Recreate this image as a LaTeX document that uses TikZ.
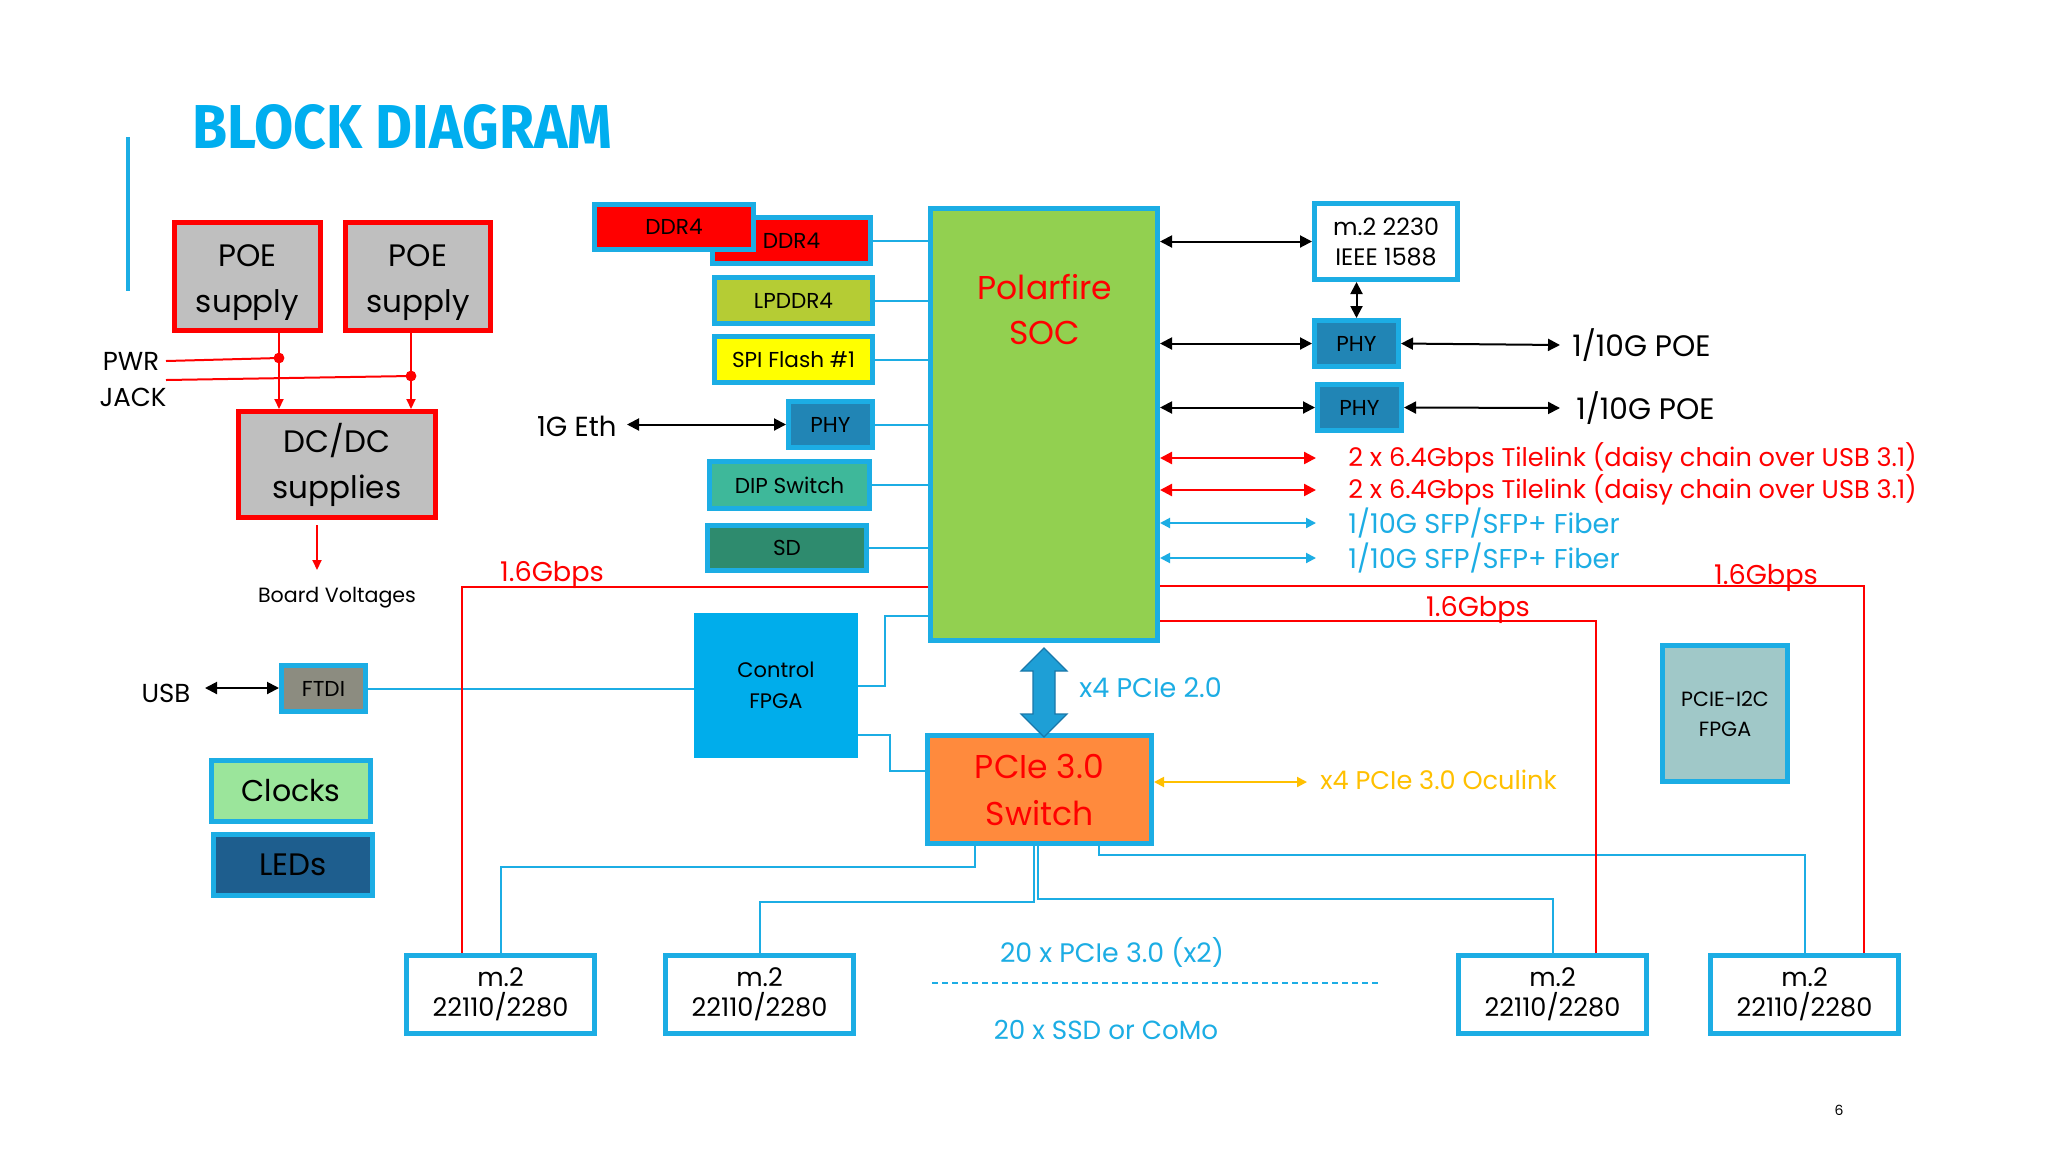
\documentclass[tikz,border=0pt]{standalone}
\usepackage{graphicx}
\usepackage{fontspec}
\setmainfont{Poppins}
\newfontfamily\ttlfont{Fira Sans}
\usetikzlibrary{arrows.meta,calc}
\definecolor{bl}{RGB}{28,173,228}
\definecolor{ttl}{RGB}{0,174,239}
\definecolor{poegray}{RGB}{191,191,191}
\definecolor{socg}{RGB}{146,208,80}
\definecolor{ddrred}{RGB}{255,0,0}
\definecolor{lpddr}{RGB}{181,204,52}
\definecolor{spiy}{RGB}{255,255,0}
\definecolor{phyc}{RGB}{33,133,181}
\definecolor{dipc}{RGB}{62,184,154}
\definecolor{sdc}{RGB}{46,139,110}
\definecolor{ftdic}{RGB}{140,140,128}
\definecolor{ctrlc}{RGB}{0,173,235}
\definecolor{clkc}{RGB}{155,229,155}
\definecolor{ledc}{RGB}{30,94,142}
\definecolor{i2cc}{RGB}{160,200,200}
\definecolor{swc}{RGB}{255,138,61}
\definecolor{ocu}{RGB}{255,192,0}
\definecolor{redl}{RGB}{255,0,0}
\definecolor{arrowfill}{RGB}{30,159,214}
\definecolor{arrowedge}{RGB}{25,120,170}
\tikzset{
  box/.style={draw=bl, line width=2.5pt, inner sep=0pt, align=center, font=\fontsize{10.8}{15}\selectfont},
  wh/.style 2 args={minimum width={#1*0.5pt-2.5pt}, minimum height={#2*0.5pt-2.5pt}},
  pbox/.style={box, draw=redl, fill=poegray, font=\fontsize{15.5}{23}\selectfont},
  mbox/.style={box, fill=white, wh={193}{83}, font=\fontsize{12.8}{15}\selectfont},
  lbl/.style={inner sep=0pt, align=center},
  bline/.style={draw=bl, line width=1pt},
  rline/.style={draw=redl, line width=1pt},
  karrow/.style={draw=black, line width=1pt, {Triangle[length=6pt,width=6pt]}-{Triangle[length=6pt,width=6pt]}},
  rarrow/.style={draw=redl, line width=1.2pt, {Triangle[length=6pt,width=6pt]}-{Triangle[length=6pt,width=6pt]}},
  carrow/.style={draw=bl, line width=1pt, {Triangle[length=5pt,width=5pt]}-{Triangle[length=5pt,width=5pt]}},
  yarrow/.style={draw=ocu, line width=1pt, {Triangle[length=5pt,width=5pt]}-{Triangle[length=5pt,width=5pt]}},
  pwarrow/.style={draw=redl, line width=1pt, -{Triangle[length=5pt,width=4.5pt]}}
}
\begin{document}
\begin{tikzpicture}[x=0.5pt, y=-0.5pt]
\useasboundingbox (0,0) rectangle (2048,1152);
\fill[white] (0,0) rectangle (2048,1152);

% title
\draw[bl, line width=2pt] (128,137) -- (128,291);
\node[anchor=base west, inner sep=0pt, text=ttl] (title) at (192,148)
  {\resizebox{210pt}{\height}{\ttlfont\bfseries\fontsize{31}{32}\selectfont BLOCK DIAGRAM}};

% power
\node[pbox, wh={151}{113}] (poe1) at (247.5,276.5) {\rule{0pt}{17pt}POE\\supply};
\node[pbox, wh={150}{113}] (poe2) at (418,276.5) {\rule{0pt}{17pt}POE\\supply};
\node[pbox, wh={202}{111}] (dcdc) at (337,464.5) {\rule{0pt}{14pt}DC/DC\\supplies};
\node[lbl, font=\fontsize{13}{15}\selectfont] (pwr) at (131,361) {PWR};
\node[lbl, font=\fontsize{13}{15}\selectfont] (jack) at (133,397) {JACK};
\coordinate (d1) at (279,358);
\coordinate (d2) at (411,376);
\draw[rline] (166,361) -- (d1);
\draw[rline] (166,380) -- (d2);
\fill[redl] (d1) circle (2.7pt);
\fill[redl] (d2) circle (2.7pt);
\draw[pwarrow] (poe1.south -| d1) -- (dcdc.north -| d1);
\draw[pwarrow] (poe2.south -| d2) -- (dcdc.north -| d2);
\node[lbl, font=\fontsize{10.3}{13}\selectfont] (bv) at (337,598) {Board Voltages};
\coordinate (bvt) at (317,570);
\draw[pwarrow] ([yshift=-2.5pt]dcdc.south -| bvt) -- (bvt);

% SOC
\node[box, fill=socg, wh={232}{437}] (soc) at (1044,424.5) {};
\node[lbl, text=redl, font=\fontsize{16.5}{22.5}\selectfont] (soct) at (1045,309) {Polarfire\\SOC};

% left peripherals
\node[box, fill=ddrred, wh={163}{51}] (ddrb) at (791.5,240.5) {DDR4};
\node[box, fill=ddrred, wh={164}{50}] (ddra) at (674,227) {DDR4};
\node[box, fill=lpddr, wh={163}{51}] (lpddr) at (793.5,300.5) {LPDDR4};
\node[box, fill=spiy, wh={163}{51}] (spi) at (793.5,359.5) {SPI Flash \#1};
\node[box, fill=phyc, wh={89}{51}] (phy0) at (830.5,424.5) {PHY};
\node[box, fill=dipc, wh={165}{52}] (dip) at (789.5,485) {DIP Switch};
\node[box, fill=sdc, wh={164}{50}] (sd) at (787,548) {SD};
\foreach \n in {ddrb,lpddr,spi,phy0,dip,sd}
  \draw[bline] (\n.east) -- (\n.east -| soc.west);
\node[lbl, anchor=east, font=\fontsize{13.8}{15}\selectfont] (eth) at (617,426) {1G Eth};
\draw[karrow] ([xshift=5pt]eth.east |- phy0.west) -- (phy0.west);

% right side of SOC
\node[box, fill=white, wh={148}{81}, font=\fontsize{11.9}{15}\selectfont] (m2s) at (1386,241.5) {m.2 2230\\IEEE 1588};
\node[box, fill=phyc, wh={89}{51}] (phy1) at (1356.5,343.5) {PHY};
\node[box, fill=phyc, wh={89}{51}] (phy2) at (1359.5,407.5) {PHY};
\draw[karrow] (m2s.west -| soc.east) -- (m2s.west);
\draw[karrow] (phy1.west -| soc.east) -- (phy1.west);
\draw[karrow] (phy2.west -| soc.east) -- (phy2.west);
\draw[karrow] (m2s.south -| phy1.north) -- (phy1.north);
\node[lbl, anchor=west, font=\fontsize{14.8}{16}\selectfont] (poeA) at (1572,345) {1/10G POE};
\node[lbl, anchor=west, font=\fontsize{14.8}{16}\selectfont] (poeB) at (1576,408) {1/10G POE};
\draw[karrow] (phy1.east) -- ([xshift=-6pt]poeA.west);
\draw[karrow] (phy2.east) -- ([xshift=-8pt]poeB.west);
\node[lbl, anchor=west, text=redl, font=\fontsize{12.8}{14}\selectfont] (tl1) at (1348,458) {2 x 6.4Gbps Tilelink (daisy chain over USB 3.1)};
\node[lbl, anchor=west, text=redl, font=\fontsize{12.8}{14}\selectfont] (tl2) at (1348,490) {2 x 6.4Gbps Tilelink (daisy chain over USB 3.1)};
\node[lbl, anchor=west, text=bl, font=\fontsize{13.6}{14}\selectfont] (fb1) at (1348,523) {1/10G SFP/SFP+ Fiber};
\node[lbl, anchor=west, text=bl, font=\fontsize{13.6}{14}\selectfont] (fb2) at (1348,558) {1/10G SFP/SFP+ Fiber};
\draw[rarrow] (tl1.west -| soc.east) -- ([xshift=-16pt]tl1.west);
\draw[rarrow] (tl2.west -| soc.east) -- ([xshift=-16pt]tl2.west);
\draw[carrow] (fb1.west -| soc.east) -- ([xshift=-16pt]fb1.west);
\draw[carrow] (fb2.west -| soc.east) -- ([xshift=-16pt]fb2.west);

% control / usb
\node[box, fill=ftdic, wh={89}{51}] (ftdi) at (323.5,688.5) {FTDI};
\node[lbl, font=\fontsize{13}{15}\selectfont] (usb) at (166,693) {USB};
\coordinate (usbA) at (205,688);
\draw[karrow] (usbA) -- (usbA -| ftdi.west);
\node[box, draw=ctrlc, fill=ctrlc, wh={164}{145}, font=\fontsize{10.5}{15.5}\selectfont] (ctrl) at (776,685.5) {Control\\FPGA};
\draw[bline] (ftdi.east) -- (ftdi.east -| ctrl.west);
\node[box, fill=clkc, wh={164}{66}, font=\fontsize{15}{20}\selectfont] (clk) at (291,791) {Clocks};
\node[box, fill=ledc, wh={164}{66}, font=\fontsize{15.5}{20}\selectfont] (leds) at (293,865) {LEDs};

% PCIe switch
\node[box, fill=swc, text=redl, wh={229}{113}, font=\fontsize{16.5}{23.5}\selectfont] (sw) at (1039.5,789.5) {PCIe 3.0\\Switch};
\coordinate (c1) at (885,686);
\coordinate (c1b) at (885,616);
\draw[bline] (ctrl.east |- c1) -- (c1) -- (c1b) -- (c1b -| soc.west);
\coordinate (c2) at (890,735);
\coordinate (c2b) at (890,771);
\draw[bline] (ctrl.east |- c2) -- (c2) -- (c2b) -- (c2b -| sw.west);
\filldraw[fill=arrowfill, draw=arrowedge, line width=0.6pt]
  (1044,648) -- (1067,671) -- (1055,671) -- (1055,714) -- (1067,714) -- (1044,737)
  -- (1021,714) -- (1033,714) -- (1033,671) -- (1021,671) -- cycle;
\node[lbl, anchor=west, text=bl, font=\fontsize{13.5}{15}\selectfont] (pcie2) at (1079,688) {x4 PCIe 2.0};
\node[lbl, anchor=west, text=ocu, font=\fontsize{12.8}{14}\selectfont] (ocl) at (1320,780) {x4 PCIe 3.0 Oculink};
\coordinate (ya) at (1307,782);
\draw[yarrow] (ya -| sw.east) -- (ya);
\node[box, fill=i2cc, wh={130}{141}, font=\fontsize{10.3}{15}\selectfont] (i2c) at (1725,713.5) {PCIE-I2C\\FPGA};

% m.2 slots
\node[mbox] (m21) at (500.5,994.5) {m.2\\22110/2280};
\node[mbox] (m22) at (759.5,994.5) {m.2\\22110/2280};
\node[mbox] (m23) at (1552.5,994.5) {m.2\\22110/2280};
\node[mbox] (m24) at (1804.5,994.5) {m.2\\22110/2280};
\coordinate (s1) at (975,867);
\coordinate (s2) at (1034,902);
\coordinate (s3) at (1038,899);
\coordinate (s4) at (1099,855);
\draw[bline] (sw.south -| s1) -- (s1) -- (s1 -| m21.north) -- (m21.north);
\draw[bline] (sw.south -| s2) -- (s2) -- (s2 -| m22.north) -- (m22.north);
\draw[bline] (sw.south -| s3) -- (s3) -- (s3 -| m23.north) -- (m23.north);
\draw[bline] (sw.south -| s4) -- (s4) -- (s4 -| m24.north) -- (m24.north);

% 1.6Gbps links
\coordinate (r1) at (462,587);
\coordinate (r2) at (1864,586);
\coordinate (r3) at (1596,621);
\draw[rline] (r1 -| soc.west) -- (r1) -- (r1 |- m21.north);
\draw[rline] (r2 -| soc.east) -- (r2) -- (r2 |- m24.north);
\draw[rline] (r3 -| soc.east) -- (r3) -- (r3 |- m23.north);
\node[lbl, text=redl, font=\fontsize{13.6}{14}\selectfont] (g1) at (552,575) {1.6Gbps};
\node[lbl, text=redl, font=\fontsize{13.6}{14}\selectfont] (g2) at (1766,578) {1.6Gbps};
\node[lbl, text=redl, font=\fontsize{13.6}{14}\selectfont] (g3) at (1478,610) {1.6Gbps};

% bottom labels
\node[lbl, text=bl, font=\fontsize{13.4}{14}\selectfont] (n20a) at (1112,952) {20 x PCIe 3.0 (x2)};
\coordinate (dl) at (932,983);
\coordinate (dr) at (1379,983);
\draw[bl, line width=1pt, dash pattern=on 3pt off 2pt] (dl) -- (dr);
\node[lbl, text=bl, font=\fontsize{13.1}{14}\selectfont] (n20b) at (1106,1030) {20 x SSD or CoMo};
\node[lbl, font=\fontsize{7}{8}\selectfont] (pg) at (1839,1110) {6};
\end{tikzpicture}
\end{document}
